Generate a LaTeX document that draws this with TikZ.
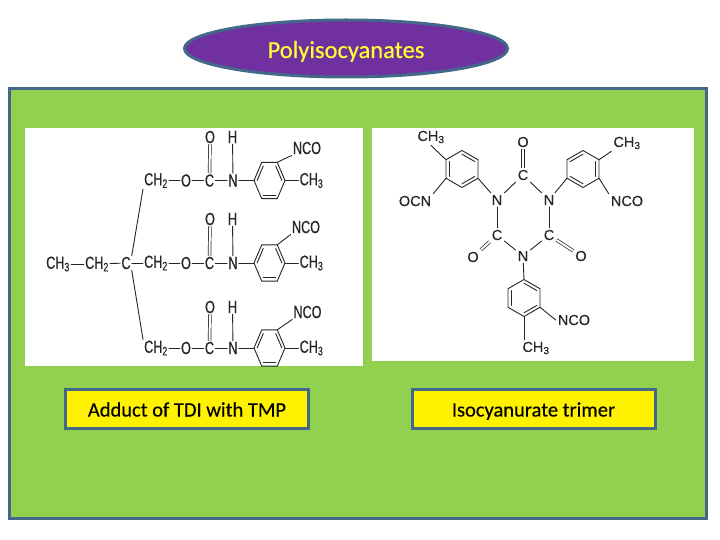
\documentclass[tikz,border=0pt]{standalone}
\usepackage{fontspec}
\setmainfont[FakeBold=0.25]{Liberation Sans}
\newfontfamily\calib[FakeBold=0.35]{Carlito}
\newfontfamily\chemnarrow[FakeStretch=0.72,FakeBold=0.4]{Liberation Sans}
\usetikzlibrary{shapes.geometric,calc}
\tikzset{
  frameline/.style={draw=frameblue,line width=3pt},
  panel/.style={fill=white,draw=none,anchor=north west,inner sep=0pt},
  label box/.style={frameline,fill=yellow,minimum width=243pt,minimum height=39pt,inner sep=0pt,text height=16pt,text depth=0pt,font=\calib\fontsize{20.5}{22}\selectfont,text=black},
  atomL/.style={inner sep=1pt,font=\chemnarrow\fontsize{17.5}{18}\selectfont,text=black!85},
  atomR/.style={inner sep=2pt,font=\fontsize{14.5}{16}\selectfont,text=black!85},
  bond/.style={draw=black!85,line width=0.9pt,line cap=round},
  dbond/.style={draw=black!85,line width=0.7pt,double=white,double distance=2pt},
}
\definecolor{frameblue}{HTML}{44688A}
\definecolor{leaf}{HTML}{92D050}
\definecolor{plum}{HTML}{7030A0}
\definecolor{lemon}{HTML}{FFFF33}
\newcommand{\sbs}[1]{\textsubscript{#1}}
% ring: name, cx, cy, x radius, y radius, start angle, list of double edges
\newcommand{\benzring}[7]{%
  \coordinate (#1) at (#2,#3);
  \foreach \i in {0,...,5}{\coordinate (#1-\i) at ($(#1)+({#6+60*\i}:{#4} and {#5})$);}
  \draw[bond] (#1-0)--(#1-1)--(#1-2)--(#1-3)--(#1-4)--(#1-5)--cycle;
  \foreach \i in {#7}{%
    \pgfmathtruncatemacro{\j}{mod(\i+1,6)}%
    \draw[bond] ($(#1-\i)!0.2!(#1)$)--($(#1-\j)!0.2!(#1)$);}%
}
% urethane arm: name, y, y of top O/H, y of NCO, x of NCO
\newcommand{\armrow}[5]{%
  \node[atomL] (#1ch) at (156,#2) {CH\sbs{2}};
  \node[atomL] (#1o) at (186,#2) {O};
  \node[atomL] (#1c) at (209.5,#2) {C};
  \node[atomL] (#1n) at (233,#2) {N};
  \node[atomL] (#1to) at (210,#3) {O};
  \node[atomL] (#1h) at (232.5,#3) {H};
  \node[atomL] (#1nco) at (#5,#4) {NCO};
  \node[atomL] (#1me) at (311.5,#2) {CH\sbs{3}};
  \benzring{#1r}{269.5}{#2}{15.5}{21}{0}{1,3,5}
  \draw[bond] (#1ch)--(#1o);
  \draw[bond] (#1o)--(#1c);
  \draw[bond] (#1c)--(#1n);
  \draw[dbond] (#1c)--(#1to);
  \draw[bond] (#1n)--(#1h);
  \draw[bond] (#1n)--(#1r-3);
  \draw[bond] (#1r-0)--(#1me);
  \draw[bond] (#1r-5)--(#1nco.south west);
}
\begin{document}
\begin{tikzpicture}[x=1pt,y=-1pt]
\useasboundingbox (0,0) rectangle (720,540);
\fill[white] (0,0) rectangle (720,540);
% frame and title
\node[frameline,fill=leaf,minimum width=697pt,minimum height=430pt,inner sep=0pt] (frame) at (357.5,303.5) {};
\node[ellipse,frameline,fill=plum,minimum width=323pt,minimum height=57pt,inner sep=0pt,text height=19pt,text depth=0pt,text=lemon,font=\calib\fontsize{24.5}{26}\selectfont] (title) at (346,48.5) {Polyisocyanates};
% panels
\node[panel,minimum width=338pt,minimum height=238pt] (pl) at (25,128) {};
\node[panel,minimum width=322pt,minimum height=233pt] (pr) at (372,128) {};
% captions
\node[label box] (capl) at (187,408.5) {Adduct of TDI with TMP};
\node[label box] (capr) at (533.5,408.5) {Isocyanurate trimer};
% left structure
\armrow{a}{180.5}{137}{148}{307}
\armrow{b}{263}{219}{227}{306}
\armrow{c}{348}{307}{312}{307.5}
\node[atomL] (lme) at (58,264) {CH\sbs{3}};
\node[atomL] (lch) at (97,264) {CH\sbs{2}};
\node[atomL] (lc) at (126,263) {C};
\draw[bond] (lme)--(lch);
\draw[bond] (lch)--(lc);
\draw[bond] (lc)--(bch);
\draw[bond] (lc.north east)--(ach.south west);
\draw[bond] (lc.south east)--(cch.north west);
% right structure
\node[atomR] (tc) at (523,175) {C};
\node[atomR] (nl) at (497,200) {N};
\node[atomR] (nr) at (549,200) {N};
\node[atomR] (cl) at (497,235) {C};
\node[atomR] (cr) at (549,235) {C};
\node[atomR] (nb) at (523,256) {N};
\node[atomR] (ot) at (523,142) {O};
\node[atomR] (ol) at (473,257) {O};
\node[atomR] (or) at (581,256) {O};
\draw[bond] (tc)--(nl);
\draw[bond] (tc)--(nr);
\draw[bond] (nl)--(cl);
\draw[bond] (nr)--(cr);
\draw[bond] (cl)--(nb);
\draw[bond] (cr)--(nb);
\draw[dbond] (tc)--(ot);
\draw[dbond] (cl)--(ol);
\draw[dbond] (cr)--(or);
\benzring{ra}{462}{169}{18.5}{18.5}{-90}{0,2,4}
\benzring{rb}{583}{169}{18.5}{18.5}{-90}{1,3,5}
\benzring{rc}{524}{298}{18.5}{18.5}{-90}{0,2,4}
\node[atomR] (mea) at (431,137) {CH\sbs{3}};
\node[atomR] (ocn) at (415,201) {OCN};
\node[atomR] (meb) at (627,143) {CH\sbs{3}};
\node[atomR] (ncob) at (627,201) {NCO};
\node[atomR] (ncoc) at (574,320) {NCO};
\node[atomR] (mec) at (536,348) {CH\sbs{3}};
\draw[bond] (nl)--(ra-2);
\draw[bond] (ra-5)--(mea.south);
\draw[bond] (ra-4)--(ocn.north east);
\draw[bond] (nr)--(rb-4);
\draw[bond] (rb-1)--(meb.south west);
\draw[bond] (rb-2)--(ncob.north west);
\draw[bond] (nb)--(rc-0);
\draw[bond] (rc-2)--(ncoc.west);
\draw[bond] (rc-3)--(rc-3 |- mec.north);
\end{tikzpicture}
\end{document}
